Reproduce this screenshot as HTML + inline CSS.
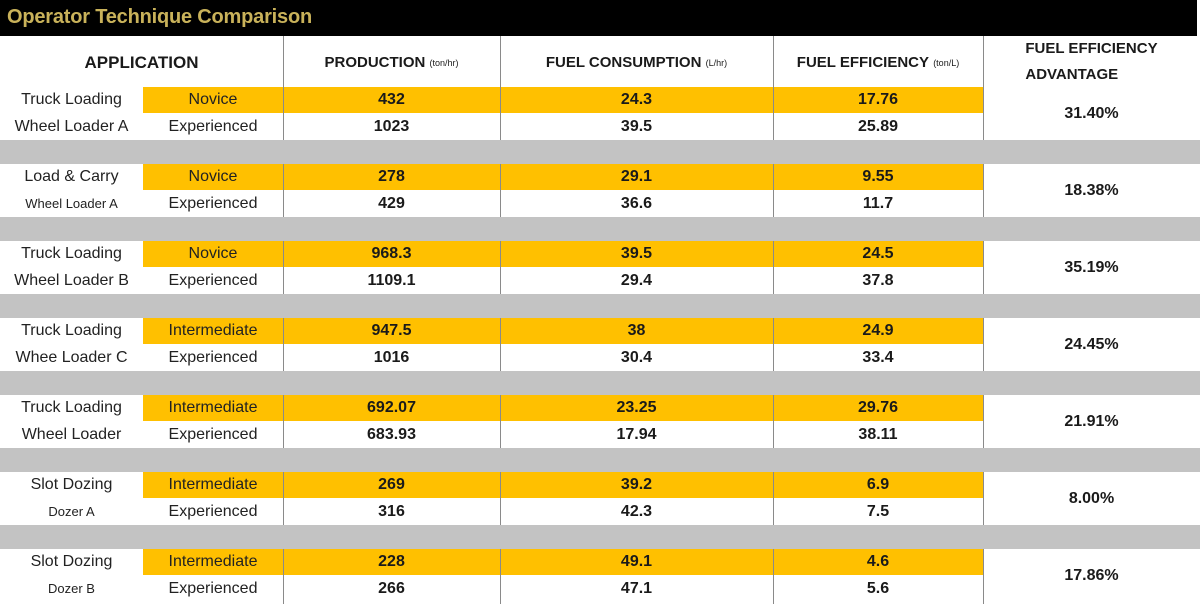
<!DOCTYPE html>
<html><head><meta charset="utf-8"><style>
body{margin:0;width:1200px;height:604px;overflow:hidden;background:#fff;font-family:"Liberation Sans",sans-serif;position:relative}
div{position:absolute;box-sizing:border-box}
.t{display:flex;align-items:center;justify-content:center;white-space:nowrap;color:#1a1a1a}
.y{background:#ffc000}
.g{background:#c3c3c3;left:0;width:1200px;height:24px;z-index:2}
.v{font-weight:bold;font-size:16px}
.o{font-size:16px;color:#222}
.vl{width:1px;background:#8a8a8a}
</style></head><body>
<div style="left:0;top:0;width:1197px;height:36px;background:#000"></div>
<div style="left:7px;top:6px;font-size:20px;font-weight:bold;color:#c9b25a;letter-spacing:-0.2px">Operator Technique Comparison</div>
<div class="t" style="left:0;top:38px;width:283px;height:49px;font-size:17px;font-weight:bold">APPLICATION</div>
<div class="t" style="left:283px;top:38px;width:217px;height:49px;font-size:15px;font-weight:bold">PRODUCTION&nbsp;<span style="font-size:9px;font-weight:normal">(ton/hr)</span></div>
<div class="t" style="left:500px;top:38px;width:273px;height:49px;font-size:15px;font-weight:bold">FUEL CONSUMPTION&nbsp;<span style="font-size:9px;font-weight:normal">(L/hr)</span></div>
<div class="t" style="left:773px;top:38px;width:210px;height:49px;font-size:15px;font-weight:bold">FUEL EFFICIENCY&nbsp;<span style="font-size:9px;font-weight:normal">(ton/L)</span></div>
<div class="t" style="left:983px;top:36px;width:217px;height:51px;font-size:15px;font-weight:bold;flex-direction:column;line-height:26px">FUEL EFFICIENCY<br>ADVANTAGE</div>

<div class="y" style="left:143px;top:87px;width:840px;height:26px"></div>
<div class="g" style="top:140px"></div>
<div class="y" style="left:143px;top:164px;width:840px;height:26px"></div>
<div class="g" style="top:217px"></div>
<div class="y" style="left:143px;top:241px;width:840px;height:26px"></div>
<div class="g" style="top:294px"></div>
<div class="y" style="left:143px;top:318px;width:840px;height:26px"></div>
<div class="g" style="top:371px"></div>
<div class="y" style="left:143px;top:395px;width:840px;height:26px"></div>
<div class="g" style="top:448px"></div>
<div class="y" style="left:143px;top:472px;width:840px;height:26px"></div>
<div class="g" style="top:525px"></div>
<div class="y" style="left:143px;top:549px;width:840px;height:26px"></div>

<div class="vl" style="left:283px;top:36px;height:568px"></div>
<div class="vl" style="left:500px;top:36px;height:568px"></div>
<div class="vl" style="left:773px;top:36px;height:568px"></div>
<div class="vl" style="left:983px;top:36px;height:568px"></div>

<div class="t o" style="left:0;top:87px;width:143px;height:26px">Truck Loading</div>
<div class="t o" style="left:0;top:113px;width:143px;height:27px">Wheel Loader A</div>
<div class="t o" style="left:143px;top:87px;width:140px;height:26px">Novice</div>
<div class="t o" style="left:143px;top:113px;width:140px;height:27px">Experienced</div>
<div class="t v" style="left:283px;top:87px;width:217px;height:26px">432</div>
<div class="t v" style="left:283px;top:113px;width:217px;height:27px">1023</div>
<div class="t v" style="left:500px;top:87px;width:273px;height:26px">24.3</div>
<div class="t v" style="left:500px;top:113px;width:273px;height:27px">39.5</div>
<div class="t v" style="left:773px;top:87px;width:210px;height:26px">17.76</div>
<div class="t v" style="left:773px;top:113px;width:210px;height:27px">25.89</div>
<div class="t v" style="left:983px;top:87px;width:217px;height:53px">31.40%</div>

<div class="t o" style="left:0;top:164px;width:143px;height:26px">Load &amp; Carry</div>
<div class="t o" style="left:0;top:190px;width:143px;height:27px;font-size:13px">Wheel Loader A</div>
<div class="t o" style="left:143px;top:164px;width:140px;height:26px">Novice</div>
<div class="t o" style="left:143px;top:190px;width:140px;height:27px">Experienced</div>
<div class="t v" style="left:283px;top:164px;width:217px;height:26px">278</div>
<div class="t v" style="left:283px;top:190px;width:217px;height:27px">429</div>
<div class="t v" style="left:500px;top:164px;width:273px;height:26px">29.1</div>
<div class="t v" style="left:500px;top:190px;width:273px;height:27px">36.6</div>
<div class="t v" style="left:773px;top:164px;width:210px;height:26px">9.55</div>
<div class="t v" style="left:773px;top:190px;width:210px;height:27px">11.7</div>
<div class="t v" style="left:983px;top:164px;width:217px;height:53px">18.38%</div>

<div class="t o" style="left:0;top:241px;width:143px;height:26px">Truck Loading</div>
<div class="t o" style="left:0;top:267px;width:143px;height:27px">Wheel Loader B</div>
<div class="t o" style="left:143px;top:241px;width:140px;height:26px">Novice</div>
<div class="t o" style="left:143px;top:267px;width:140px;height:27px">Experienced</div>
<div class="t v" style="left:283px;top:241px;width:217px;height:26px">968.3</div>
<div class="t v" style="left:283px;top:267px;width:217px;height:27px">1109.1</div>
<div class="t v" style="left:500px;top:241px;width:273px;height:26px">39.5</div>
<div class="t v" style="left:500px;top:267px;width:273px;height:27px">29.4</div>
<div class="t v" style="left:773px;top:241px;width:210px;height:26px">24.5</div>
<div class="t v" style="left:773px;top:267px;width:210px;height:27px">37.8</div>
<div class="t v" style="left:983px;top:241px;width:217px;height:53px">35.19%</div>

<div class="t o" style="left:0;top:318px;width:143px;height:26px">Truck Loading</div>
<div class="t o" style="left:0;top:344px;width:143px;height:27px">Whee Loader C</div>
<div class="t o" style="left:143px;top:318px;width:140px;height:26px">Intermediate</div>
<div class="t o" style="left:143px;top:344px;width:140px;height:27px">Experienced</div>
<div class="t v" style="left:283px;top:318px;width:217px;height:26px">947.5</div>
<div class="t v" style="left:283px;top:344px;width:217px;height:27px">1016</div>
<div class="t v" style="left:500px;top:318px;width:273px;height:26px">38</div>
<div class="t v" style="left:500px;top:344px;width:273px;height:27px">30.4</div>
<div class="t v" style="left:773px;top:318px;width:210px;height:26px">24.9</div>
<div class="t v" style="left:773px;top:344px;width:210px;height:27px">33.4</div>
<div class="t v" style="left:983px;top:318px;width:217px;height:53px">24.45%</div>

<div class="t o" style="left:0;top:395px;width:143px;height:26px">Truck Loading</div>
<div class="t o" style="left:0;top:421px;width:143px;height:27px">Wheel Loader</div>
<div class="t o" style="left:143px;top:395px;width:140px;height:26px">Intermediate</div>
<div class="t o" style="left:143px;top:421px;width:140px;height:27px">Experienced</div>
<div class="t v" style="left:283px;top:395px;width:217px;height:26px">692.07</div>
<div class="t v" style="left:283px;top:421px;width:217px;height:27px">683.93</div>
<div class="t v" style="left:500px;top:395px;width:273px;height:26px">23.25</div>
<div class="t v" style="left:500px;top:421px;width:273px;height:27px">17.94</div>
<div class="t v" style="left:773px;top:395px;width:210px;height:26px">29.76</div>
<div class="t v" style="left:773px;top:421px;width:210px;height:27px">38.11</div>
<div class="t v" style="left:983px;top:395px;width:217px;height:53px">21.91%</div>

<div class="t o" style="left:0;top:472px;width:143px;height:26px">Slot Dozing</div>
<div class="t o" style="left:0;top:498px;width:143px;height:27px;font-size:13px">Dozer A</div>
<div class="t o" style="left:143px;top:472px;width:140px;height:26px">Intermediate</div>
<div class="t o" style="left:143px;top:498px;width:140px;height:27px">Experienced</div>
<div class="t v" style="left:283px;top:472px;width:217px;height:26px">269</div>
<div class="t v" style="left:283px;top:498px;width:217px;height:27px">316</div>
<div class="t v" style="left:500px;top:472px;width:273px;height:26px">39.2</div>
<div class="t v" style="left:500px;top:498px;width:273px;height:27px">42.3</div>
<div class="t v" style="left:773px;top:472px;width:210px;height:26px">6.9</div>
<div class="t v" style="left:773px;top:498px;width:210px;height:27px">7.5</div>
<div class="t v" style="left:983px;top:472px;width:217px;height:53px">8.00%</div>

<div class="t o" style="left:0;top:549px;width:143px;height:26px">Slot Dozing</div>
<div class="t o" style="left:0;top:575px;width:143px;height:27px;font-size:13px">Dozer B</div>
<div class="t o" style="left:143px;top:549px;width:140px;height:26px">Intermediate</div>
<div class="t o" style="left:143px;top:575px;width:140px;height:27px">Experienced</div>
<div class="t v" style="left:283px;top:549px;width:217px;height:26px">228</div>
<div class="t v" style="left:283px;top:575px;width:217px;height:27px">266</div>
<div class="t v" style="left:500px;top:549px;width:273px;height:26px">49.1</div>
<div class="t v" style="left:500px;top:575px;width:273px;height:27px">47.1</div>
<div class="t v" style="left:773px;top:549px;width:210px;height:26px">4.6</div>
<div class="t v" style="left:773px;top:575px;width:210px;height:27px">5.6</div>
<div class="t v" style="left:983px;top:549px;width:217px;height:53px">17.86%</div>
</body></html>
